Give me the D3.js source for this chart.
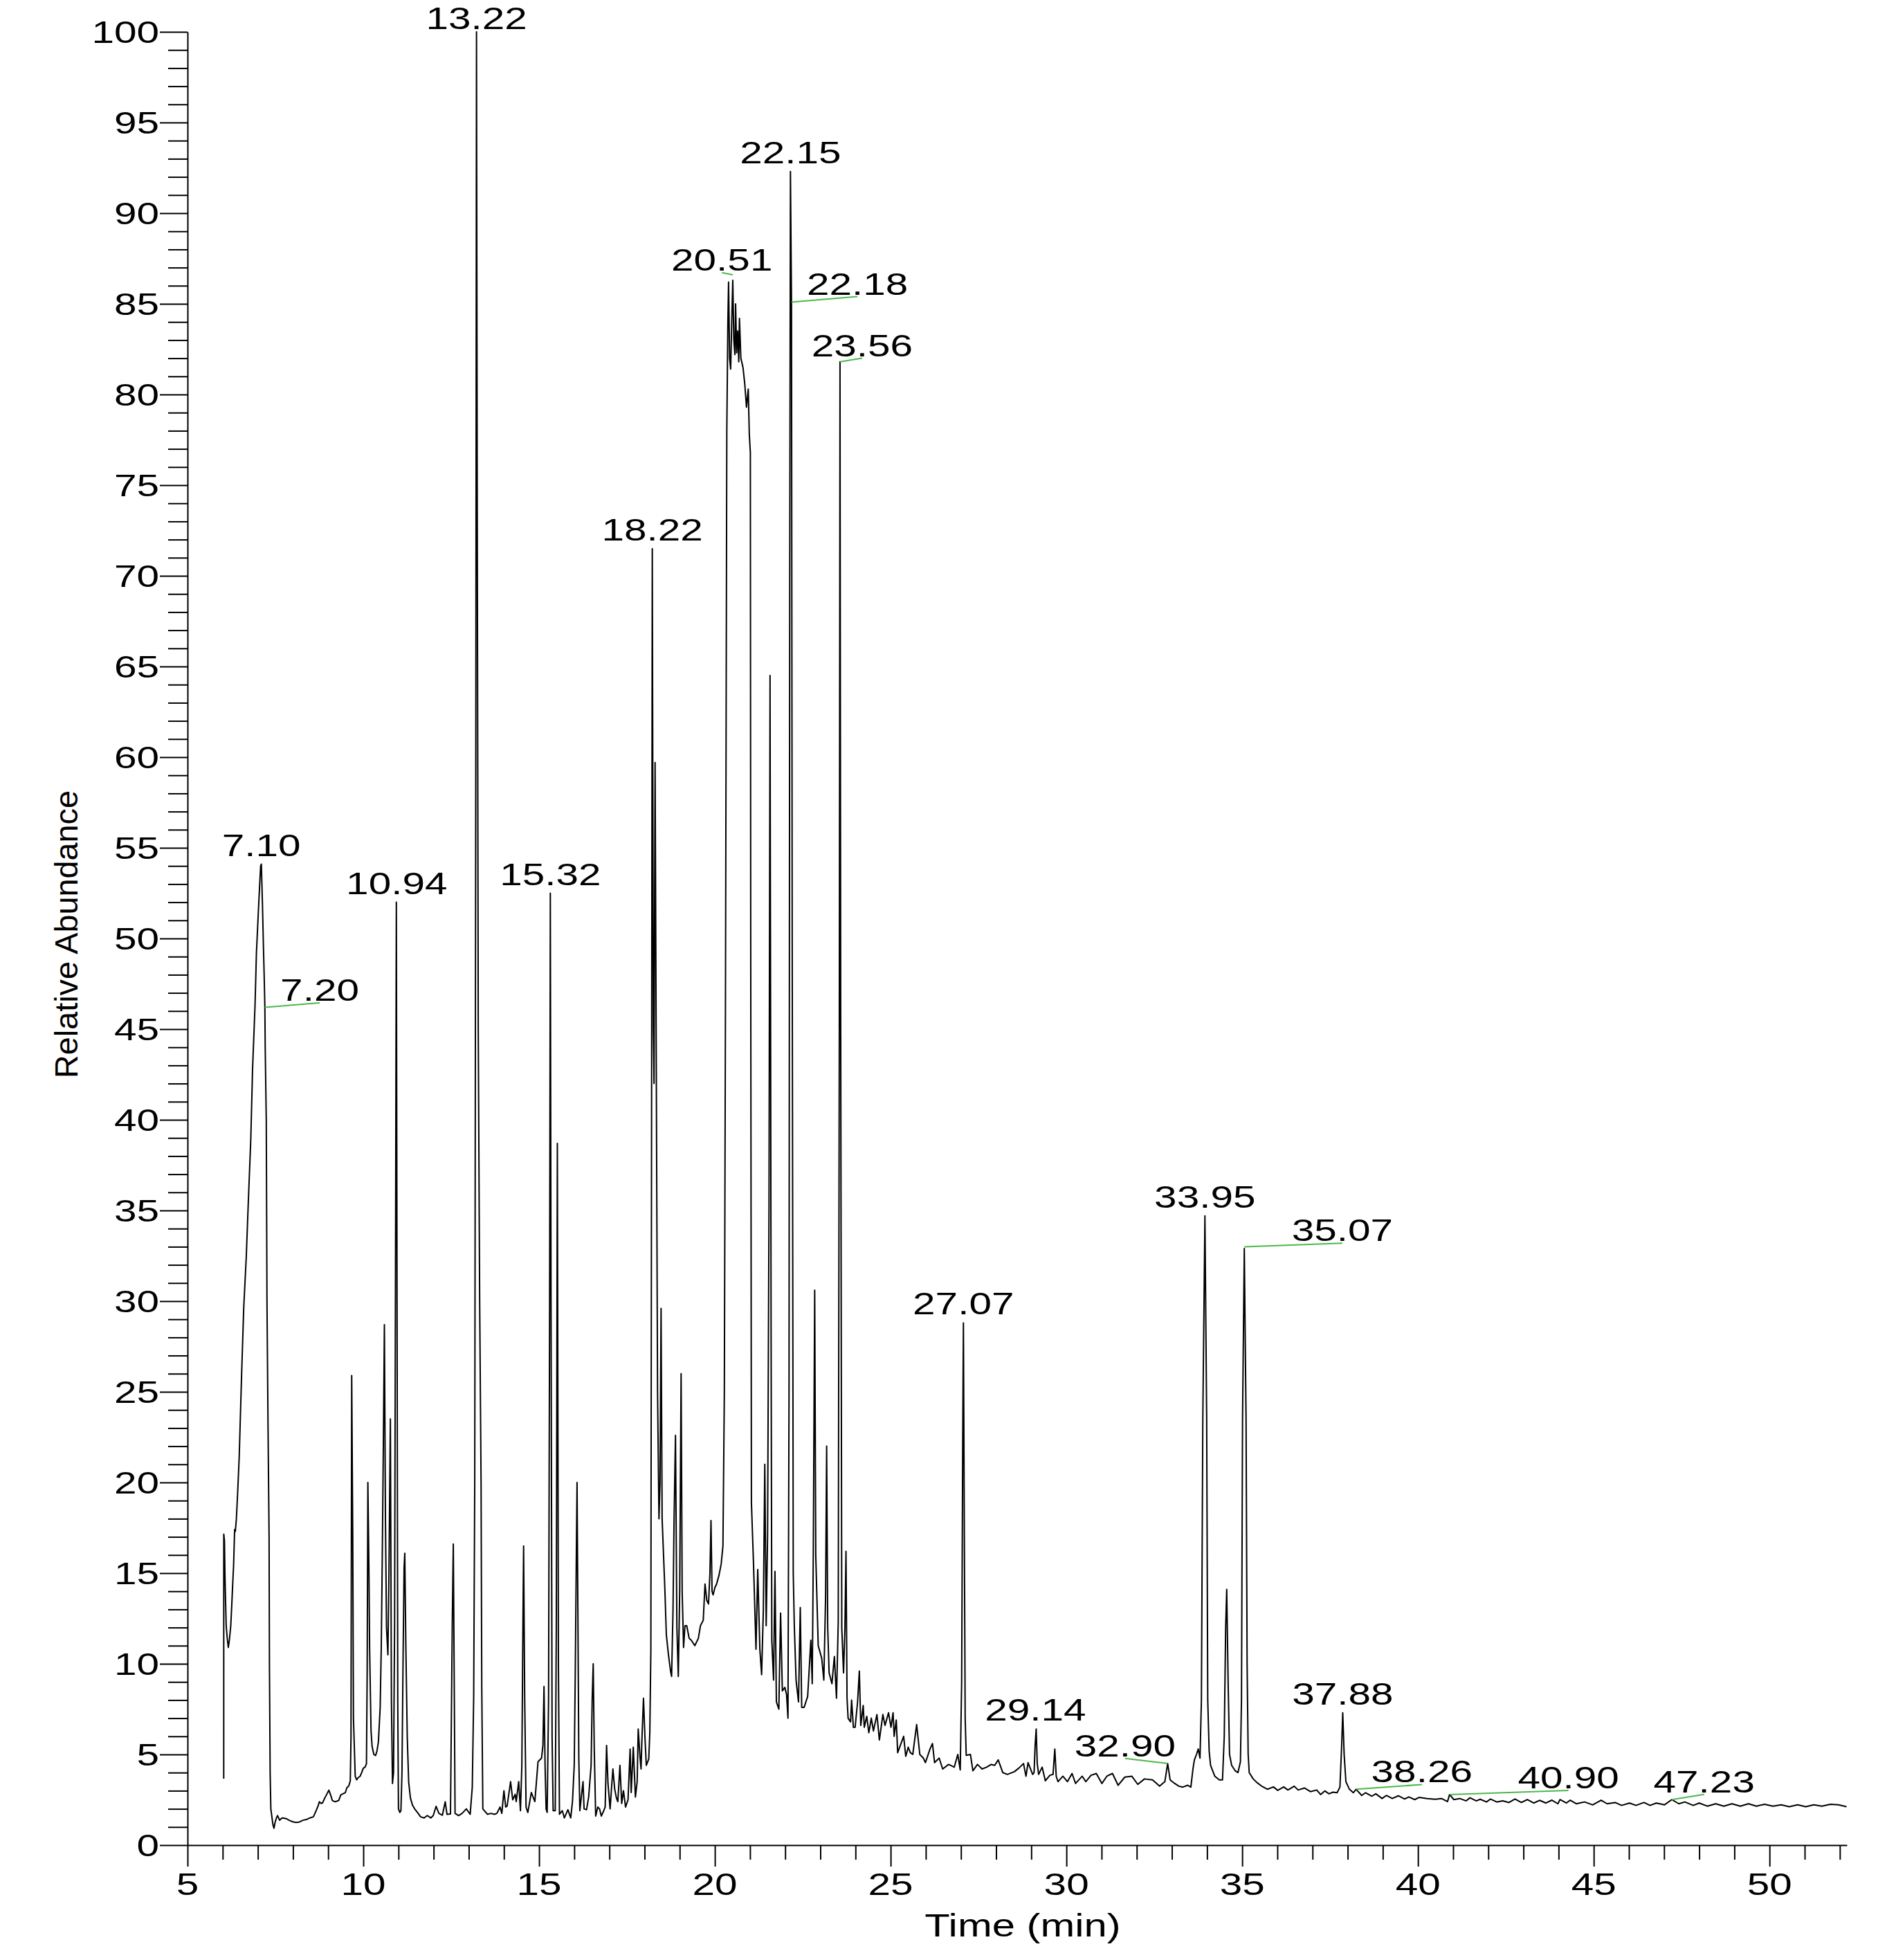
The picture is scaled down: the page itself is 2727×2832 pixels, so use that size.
<!DOCTYPE html>
<html>
<head>
<meta charset="utf-8">
<script src="https://cdn.jsdelivr.net/npm/d3@7"></script>
<style>
  html, body { margin: 0; padding: 0; background: #ffffff; }
  svg { display: block; }
</style>
</head>
<body>
<svg id="chart" width="2727" height="2832"></svg>
<script>
// ---------------- DATA (time in min, relative abundance in %) ----------------
const segA = [[6.03,3.66],[6.031,17.15],[6.05,16.8],[6.065,14.9],[6.08,13.6],[6.10,12.1],[6.13,11.4],[6.16,10.9],[6.19,11.3],[6.23,12.1],[6.26,13.3],[6.29,14.6],[6.31,15.4],[6.34,17.4],[6.36,17.3],[6.39,18.0],[6.43,19.6],[6.47,21.4],[6.54,26.05],[6.60,29.7],[6.67,32.4],[6.73,35.5],[6.80,38.95],[6.85,42.8],[6.92,46.3],[6.96,49.2],[7.03,52.1],[7.08,54.0],[7.10,54.1],[7.13,52],[7.16,49.5],[7.18,47.96],[7.20,46.2],[7.21,44],[7.24,40],[7.26,30],[7.29,23.1],[7.32,17],[7.33,10],[7.35,4],[7.37,2.0],[7.395,1.63],[7.43,1.12],[7.46,0.93],[7.49,1.25],[7.53,1.5],[7.56,1.63],[7.59,1.5],[7.62,1.37],[7.66,1.45],[7.69,1.5],[7.76,1.48],[7.82,1.45],[7.89,1.37],[7.99,1.29],[8.08,1.25],[8.18,1.27],[8.28,1.37],[8.38,1.41],[8.48,1.5],[8.58,1.56],[8.64,1.82],[8.71,2.14],[8.75,2.39],[8.80,2.3],[8.84,2.33],[8.90,2.58],[8.97,2.84],[9.02,3.03],[9.07,2.77],[9.12,2.46],[9.20,2.39],[9.30,2.46],[9.36,2.77],[9.43,2.84],[9.49,2.9],[9.53,3.15],[9.59,3.28],[9.63,3.54],[9.65,5.95],[9.67,25.9],[9.70,17],[9.72,7.0],[9.77,3.8],[9.81,3.6],[9.86,3.73],[9.91,3.8],[9.95,3.98],[10.00,4.24],[10.05,4.3],[10.09,4.49],[10.11,9.5],[10.13,20.0],[10.16,15.2],[10.18,10.8],[10.22,6.3],[10.25,5.45],[10.30,5.0],[10.35,4.94],[10.39,5.2],[10.43,5.7],[10.48,7.6],[10.51,10.8]];

const segB = [[10.54,15.9],[10.57,22],[10.60,28.7],[10.63,18],[10.66,12],[10.70,10.5],[10.73,15],[10.77,23.5],[10.80,8],[10.83,3.4],[10.86,4],[10.89,12],[10.92,35],[10.94,52.0],[10.96,30],[10.98,8],[11.00,2.0],[11.04,1.8],[11.07,1.9],[11.10,4],[11.13,10],[11.16,15.3],[11.18,16.1],[11.21,11],[11.25,6],[11.29,3.5],[11.34,2.6],[11.40,2.2],[11.46,2.0],[11.56,1.75],[11.63,1.56],[11.73,1.5],[11.82,1.63],[11.92,1.5],[11.99,1.63],[12.07,2.14],[12.15,1.75],[12.25,1.65],[12.33,2.39],[12.38,1.7],[12.48,1.72],[12.53,12.1],[12.56,16.6],[12.59,8],[12.61,1.75],[12.71,1.63],[12.81,1.75],[12.93,2.0],[13.04,1.7],[13.10,3.2],[13.14,8.2],[13.17,20],[13.20,60],[13.22,100],[13.24,75],[13.27,45],[13.31,30],[13.35,20],[13.37,8.6],[13.40,2.0],[13.53,1.7],[13.63,1.75],[13.73,1.7],[13.80,1.75],[13.89,2.1],[13.94,1.75],[14.00,3.0],[14.05,2.1],[14.09,2.15],[14.19,3.5],[14.25,2.5],[14.32,2.8],[14.35,2.4],[14.42,3.5],[14.47,1.9],[14.51,4.4],[14.54,12],[14.56,16.5],[14.59,8.2],[14.63,2.1],[14.68,1.8],[14.78,2.9],[14.88,2.4],[14.97,4.6],[15.07,4.8],[15.11,5.5],[15.14,8.75],[15.17,4.4],[15.20,2.0],[15.23,1.8],[15.27,8],[15.30,30],[15.32,52.5],[15.34,30],[15.37,6],[15.40,1.9],[15.46,1.9],[15.49,12],[15.52,38.7],[15.55,10],[15.58,1.7]];

const segC = [[15.66,1.9],[15.72,1.5],[15.82,1.95],[15.90,1.5],[15.95,2.4],[16.00,4.4],[16.03,9.6],[16.06,16],[16.08,20.0],[16.10,14],[16.13,4.8],[16.16,1.9],[16.21,2.8],[16.25,3.5],[16.28,2.0],[16.35,1.95],[16.41,2.65],[16.48,4.4],[16.51,8],[16.54,10.0],[16.57,5.3],[16.61,1.6],[16.67,2.1],[16.72,2.0],[16.77,1.6],[16.84,1.9],[16.88,2.1],[16.92,5.5],[16.96,3.4],[17.02,2.0],[17.07,3.4],[17.10,4.2],[17.15,3.1],[17.20,2.6],[17.24,2.4],[17.30,4.4],[17.35,2.3],[17.40,3.0],[17.46,2.1],[17.53,2.5],[17.59,5.3],[17.62,2.9],[17.68,5.4],[17.74,2.65],[17.79,3.5],[17.82,6.4],[17.87,4.9],[17.90,4.2],[17.93,6.1],[17.97,8.1],[18.01,6.0],[18.05,4.4],[18.12,4.75],[18.15,6.2],[18.18,10.8],[18.20,40],[18.22,71.5],[18.25,45],[18.27,42],[18.30,59.7],[18.33,45],[18.37,25],[18.41,18],[18.44,20],[18.47,29.6],[18.50,18],[18.54,16],[18.58,14.0],[18.62,11.6],[18.68,10.5],[18.74,9.6],[18.77,9.3],[18.81,13],[18.84,18],[18.88,22.6],[18.92,12],[18.96,9.3],[19.00,14],[19.04,26.0],[19.07,14],[19.11,10.9],[19.15,12.1],[19.20,12.1],[19.27,11.4],[19.33,11.3],[19.43,11.0],[19.53,11.4],[19.59,12.1],[19.67,12.4],[19.72,14.4],[19.77,13.5],[19.82,13.3],[19.86,15],[19.89,17.9],[19.92,14],[19.95,13.8],[20.00,14.2],[20.05,14.4],[20.12,14.9],[20.18,15.5],[20.23,16.5],[20.27,25],[20.30,45]];

const segD = [[20.34,78],[20.37,84],[20.39,86.2],[20.42,82],[20.45,81.4],[20.48,84],[20.51,86.3],[20.54,83],[20.57,82.2],[20.59,85.0],[20.62,82.3],[20.65,83.5],[20.68,81.8],[20.70,84.2],[20.74,82],[20.80,81.5],[20.85,80.6],[20.90,79.3],[20.95,80.3],[20.98,77.8],[21.01,76.8],[21.02,50],[21.04,18.9],[21.10,15.5],[21.17,10.8],[21.22,15.2],[21.28,10.8],[21.33,9.4],[21.38,13],[21.42,21.0],[21.46,12.1],[21.50,17.1],[21.54,35],[21.57,64.5],[21.60,28],[21.62,11.3],[21.67,9.1],[21.71,15.1],[21.75,7.9],[21.82,7.5],[21.87,12.8],[21.92,8.5],[21.99,8.7],[22.04,8.3],[22.08,7.0],[22.11,25],[22.13,70],[22.15,92.3],[22.18,85.1],[22.20,50],[22.23,15],[22.26,12.1],[22.31,9.1],[22.38,7.9],[22.43,13.1],[22.47,7.6],[22.54,7.6],[22.64,8.2],[22.73,11.3],[22.77,8.9],[22.80,16],[22.84,30.6],[22.87,16],[22.94,11.0],[23.04,10.3],[23.10,9.1],[23.15,13.7],[23.18,22.0],[23.21,12],[23.25,9.5],[23.33,8.9],[23.40,10.4],[23.46,8.1],[23.51,12.3],[23.54,45],[23.56,81.8],[23.58,45],[23.61,12],[23.66,9.5],[23.70,12],[23.73,16.2],[23.76,8.1],[23.79,7.0],[23.86,6.8],[23.89,8.0],[23.94,6.5],[23.99,6.5],[24.06,7.9],[24.11,9.6],[24.15,6.6],[24.22,7.7],[24.25,6.5],[24.32,7.1],[24.38,6.2],[24.45,7.0],[24.51,6.3],[24.61,7.2],[24.68,5.8],[24.78,7.2],[24.84,6.6],[24.94,7.3],[25.01,6.5],[25.07,7.3],[25.10,6.0],[25.16,6.9],[25.20,5.1]];

const segE = [[25.37,6.0],[25.43,4.9],[25.50,5.4],[25.56,5.1],[25.63,5.0],[25.74,6.65],[25.83,5.0],[25.93,4.8],[25.99,4.55],[26.12,5.3],[26.19,5.6],[26.25,4.55],[26.38,4.8],[26.48,4.2],[26.65,4.45],[26.81,4.3],[26.91,5.0],[26.98,4.15],[27.02,9],[27.05,22],[27.07,28.8],[27.09,20],[27.12,7],[27.15,4.95],[27.27,5.0],[27.34,4.1],[27.47,4.45],[27.60,4.2],[27.73,4.3],[27.86,4.45],[27.96,4.4],[28.06,4.7],[28.19,4.0],[28.32,3.9],[28.52,4.05],[28.65,4.25],[28.78,4.5],[28.85,3.8],[28.91,4.55],[29.04,3.9],[29.08,4.0],[29.11,5.5],[29.14,6.4],[29.17,4.5],[29.21,3.9],[29.31,4.3],[29.40,3.55],[29.53,3.85],[29.62,3.9],[29.67,5.3],[29.71,3.8],[29.76,3.5],[29.90,3.8],[30.03,3.5],[30.16,3.95],[30.26,3.4],[30.45,3.8],[30.55,3.5],[30.70,3.85],[30.85,3.95],[31.01,3.4],[31.15,3.8],[31.31,3.95],[31.47,3.3],[31.66,3.75],[31.86,3.8],[32.03,3.35],[32.22,3.65],[32.45,3.6],[32.65,3.25],[32.80,3.5],[32.88,4.5],[32.95,3.6],[33.08,3.4],[33.20,3.25],[33.31,3.2],[33.45,3.3],[33.54,3.2],[33.60,4.2],[33.64,4.7],[33.70,5.0],[33.75,5.3],[33.80,4.8],[33.84,8],[33.88,23.5],[33.94,34.7],[33.99,23.5],[34.02,8],[34.06,5.2],[34.10,4.4],[34.22,3.8],[34.35,3.6],[34.44,3.6],[34.49,6],[34.53,12],[34.56,14.1],[34.60,9],[34.64,5],[34.70,4.4],[34.80,4.1],[34.88,4.0],[34.95,4.6],[34.98,8],[35.01,23.5],[35.06,32.9],[35.11,23.5],[35.14,10],[35.17,5],[35.20,4.0]];

const segF = [[35.31,3.66],[35.42,3.45],[35.54,3.27],[35.72,3.08],[35.89,3.21],[36.01,3.02],[36.18,3.21],[36.30,3.04],[36.48,3.25],[36.59,3.04],[36.77,3.15],[36.94,2.95],[37.12,3.04],[37.23,2.79],[37.35,2.99],[37.47,2.83],[37.58,2.92],[37.70,2.89],[37.78,3.2],[37.83,5.5],[37.86,7.3],[37.90,5.0],[37.95,3.5],[38.05,3.08],[38.16,2.89],[38.24,3.08],[38.40,2.74],[38.51,2.89],[38.69,2.70],[38.80,2.83],[38.98,2.57],[39.10,2.74],[39.27,2.57],[39.44,2.72],[39.62,2.54],[39.74,2.66],[39.91,2.51],[40.03,2.63],[40.26,2.57],[40.49,2.53],[40.67,2.57],[40.84,2.40],[40.90,2.79],[41.02,2.51],[41.19,2.57],[41.37,2.44],[41.48,2.61],[41.66,2.44],[41.77,2.53],[41.95,2.38],[42.06,2.54],[42.24,2.38],[42.41,2.44],[42.59,2.35],[42.76,2.54],[42.94,2.35],[43.11,2.51],[43.29,2.32],[43.46,2.47],[43.64,2.32],[43.81,2.48],[43.98,2.28],[44.04,2.51],[44.22,2.32],[44.33,2.48],[44.51,2.28],[44.74,2.38],[44.97,2.22],[45.21,2.48],[45.38,2.28],[45.61,2.35],[45.79,2.19],[46.02,2.32],[46.20,2.19],[46.43,2.35],[46.60,2.19],[46.78,2.32],[47.01,2.22],[47.22,2.51],[47.42,2.28],[47.59,2.38],[47.83,2.19],[48.00,2.32],[48.23,2.15],[48.47,2.28],[48.70,2.15],[48.93,2.28],[49.17,2.15],[49.40,2.28],[49.63,2.15],[49.86,2.25],[50.10,2.15],[50.33,2.22],[50.56,2.12],[50.80,2.22],[51.03,2.12],[51.26,2.22],[51.49,2.15],[51.73,2.25],[51.96,2.22],[52.19,2.12]];

// Peak labels placed directly above the apex: [label, time, abundance]
const apexLabels = [["7.10",7.10,54.1],["10.94",10.95,52.0],["13.22",13.22,100],["15.32",15.32,52.5],["18.22",18.22,71.5],["22.15",22.15,92.3],["27.07",27.07,28.8],["29.14",29.12,6.4],["33.95",33.94,34.7],["37.88",37.86,7.3]];
// Peak labels with a green leader: [label, trace time, trace abundance, label time, label abundance]
const leaderLabels = [["7.20",7.20,46.2,8.76,46.45],["20.51",20.51,86.6,20.20,86.72],["22.18",22.18,85.1,24.055,85.4],["23.56",23.56,81.8,24.19,82.0],["32.90",32.88,4.5,31.67,4.78],["35.07",35.06,33.0,37.85,33.2],["38.26",38.24,3.08,40.11,3.34],["40.90",40.90,2.79,44.28,3.02],["47.23",47.22,2.51,48.14,2.80]];

const yMajor = d3.range(0, 101, 5);
const yMinor = d3.range(0, 101, 1).filter(v => v % 5 !== 0);
const xMajor = d3.range(5, 51, 5);
const xMinor = d3.range(5, 53, 1).filter(v => v % 5 !== 0);

// ---------------- DRAWING ----------------
const FONT = "'Liberation Sans', Arial, Helvetica, sans-serif";
const SX = 1.3; // horizontal stretch of the original rendering
const svg = d3.select("#chart");
svg.append("rect").attr("width", 2727).attr("height", 2832).attr("fill", "#fff");

const x = d3.scaleLinear().domain([5, 52.2]).range([271, 2669]);
const y = d3.scaleLinear().domain([0, 100]).range([2666, 46]);

function hText(parent, px, py, str, size, anchor) {
  parent.append("g")
    .attr("transform", `translate(${px},${py}) scale(${SX},1)`)
    .append("text")
    .attr("text-anchor", anchor)
    .attr("font-family", FONT)
    .attr("font-size", size)
    .attr("fill", "#000")
    .text(str);
}

// Y axis
const gy = svg.append("g").attr("transform", "translate(271,0)");
gy.append("g").call(d3.axisLeft(y).tickValues(yMajor).tickSize(40).tickSizeOuter(0).tickFormat(""))
  .call(g => g.select(".domain").attr("stroke-width", 2))
  .call(g => g.selectAll(".tick line").attr("stroke-width", 2));
gy.append("g").call(d3.axisLeft(y).tickValues(yMinor).tickSize(28).tickFormat(""))
  .call(g => g.select(".domain").remove())
  .call(g => g.selectAll(".tick line").attr("stroke-width", 2));
const yLab = svg.append("g");
yMajor.forEach(v => hText(yLab, 230, y(v) + 16, String(v), 45, "end"));

// X axis
const gx = svg.append("g").attr("transform", "translate(0,2666)");
gx.append("g").call(d3.axisBottom(x).tickValues(xMajor).tickSize(31).tickSizeOuter(0).tickFormat(""))
  .call(g => g.select(".domain").attr("stroke-width", 2))
  .call(g => g.selectAll(".tick line").attr("stroke-width", 2));
gx.append("g").call(d3.axisBottom(x).tickValues(xMinor).tickSize(21).tickFormat(""))
  .call(g => g.select(".domain").remove())
  .call(g => g.selectAll(".tick line").attr("stroke-width", 2));
const xLab = svg.append("g");
xMajor.forEach(v => hText(xLab, x(v), 2738, String(v), 45, "middle"));

// Axis titles
hText(svg, 1478, 2798, "Time (min)", 46, "middle");
svg.append("text")
  .attr("transform", "translate(112,1350) rotate(-90)")
  .attr("text-anchor", "middle")
  .attr("font-family", FONT)
  .attr("font-size", 47)
  .attr("textLength", 416)
  .attr("lengthAdjust", "spacingAndGlyphs")
  .text("Relative Abundance");

// Trace
const trace = [].concat(segA, segB, segC, segD, segE, segF);
const line = d3.line().x(d => x(d[0])).y(d => y(d[1]));
svg.append("path")
  .datum(trace)
  .attr("d", line)
  .attr("fill", "none")
  .attr("stroke", "#000")
  .attr("stroke-width", 2)
  .attr("stroke-linejoin", "round");

// Labels (kept inside the canvas: baseline never above 42 px)
const lab = svg.append("g");
apexLabels.forEach(([s, t, a]) => hText(lab, x(t), Math.max(y(a) - 12, 42), s, 45, "middle"));
leaderLabels.forEach(([s, t, a, lt, la]) => {
  lab.append("line")
    .attr("x1", x(t)).attr("y1", y(a))
    .attr("x2", x(lt)).attr("y2", y(la))
    .attr("stroke", "#4cb84c").attr("stroke-width", 2);
  hText(lab, x(lt), y(la) - 3, s, 45, "middle");
});
</script>
</body>
</html>
